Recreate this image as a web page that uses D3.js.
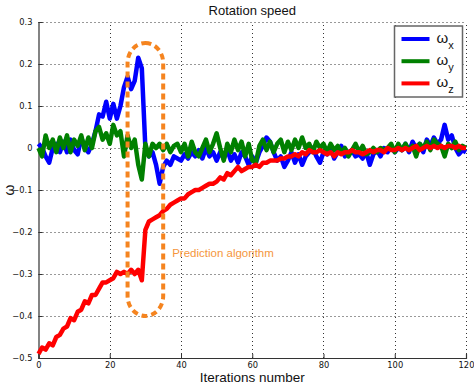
<!DOCTYPE html>
<html>
<head>
    <meta charset="utf-8">
</head>
<body>
    <style>
        body, html {
            margin: 0;
            padding: 0;
            background: #fff;
        }
        svg {
            position: absolute;
            top: 0;
            left: 0;
            font-family: "Liberation Sans", Arial, sans-serif;
        }
    </style>

    <svg width="474" height="385"></svg>

    <script src="https://d3js.org/d3.v7.min.js"></script>

    <script>
        var width = 474;
        var height = 385;
        var margin = { top: 22, right: 8, bottom: 27, left: 38.5 };

        // iterations 0..120
        var iterations = d3.range(0, 121);

        var omegaX = [
            0.01, 0.00, -0.02, -0.035, 0.00, 0.01, -0.01, 0.015, -0.01, 0.02,
            -0.005, -0.015, 0.025, 0.00, -0.01, 0.01, 0.04, 0.08, 0.075, 0.11,
            0.07, 0.105, 0.07, 0.10, 0.145, 0.17, 0.14, 0.16, 0.215, 0.19,
            0.00, -0.02, -0.01, -0.04, -0.085, -0.045, -0.03, -0.04, -0.02, -0.025,
            -0.03, -0.015, -0.025, -0.01, -0.02, -0.005, -0.025, 0.00, -0.02, -0.01,
            -0.03, -0.01, -0.025, -0.005, -0.03, -0.015, -0.035, -0.01, -0.02, -0.04,
            -0.02, -0.035, -0.01, 0.005, 0.025, 0.015, -0.01, -0.03, -0.02, -0.045,
            -0.03, -0.01, -0.035, -0.015, -0.04, -0.02, -0.01, 0.00, -0.02, -0.035,
            -0.01, -0.015, 0.00, -0.025, -0.01, 0.005, -0.02, -0.01, -0.005, -0.02,
            -0.015, -0.025, -0.01, -0.04, -0.015, -0.005, -0.02, 0.00, -0.01, 0.005,
            -0.01, 0.00, -0.005, 0.01, -0.01, 0.015, 0.00, 0.01, -0.01, 0.02,
            0.005, 0.025, 0.01, 0.02, 0.055, 0.02, 0.03, 0.00, -0.015, -0.005,
            -0.01
        ];

        var omegaY = [
            0.00, -0.02, 0.03, 0.00, 0.02, -0.01, 0.025, 0.00, 0.03, -0.01,
            0.02, 0.005, 0.03, -0.005, 0.025, 0.00, 0.04, 0.05, 0.02, 0.035,
            0.01, 0.055, 0.03, 0.04, -0.02, 0.03, 0.00, 0.02, -0.04, -0.075,
            0.01, -0.02, 0.01, 0.00, 0.01, -0.005, 0.01, -0.01, 0.005, 0.01,
            -0.01, 0.01, -0.02, 0.015, -0.01, -0.02, 0.00, 0.02, -0.01, 0.01,
            0.035, 0.00, -0.03, 0.01, -0.01, 0.02, -0.005, 0.015, -0.02, 0.01,
            -0.03, -0.035, 0.005, 0.02, -0.005, 0.015, -0.01, 0.01, 0.02, -0.01,
            0.015, -0.005, 0.02, 0.00, 0.025, 0.00, 0.01, -0.01, 0.015, 0.00,
            0.01, -0.01, 0.01, -0.005, 0.005, -0.01, 0.00, -0.02, -0.005, 0.01,
            -0.01, 0.005, -0.015, -0.01, 0.00, -0.01, 0.00, -0.005, 0.00, 0.01,
            -0.01, 0.01, -0.005, 0.01, -0.005, 0.005, -0.02, 0.01, 0.00, 0.015,
            -0.005, 0.02, 0.01, 0.005, -0.02, 0.01, 0.00, 0.015, -0.005, 0.005,
            0.00
        ];

        var omegaZ = [
            -0.49, -0.475, -0.48, -0.465, -0.47, -0.45, -0.445, -0.43, -0.425, -0.405,
            -0.41, -0.39, -0.385, -0.365, -0.37, -0.35, -0.35, -0.335, -0.32, -0.32,
            -0.315, -0.31, -0.295, -0.30, -0.295, -0.30, -0.29, -0.30, -0.29, -0.315,
            -0.195, -0.175, -0.17, -0.165, -0.16, -0.15, -0.145, -0.135, -0.13, -0.125,
            -0.12, -0.12, -0.11, -0.105, -0.10, -0.10, -0.095, -0.09, -0.085, -0.085,
            -0.08, -0.07, -0.075, -0.06, -0.065, -0.055, -0.045, -0.055, -0.05, -0.045,
            -0.045, -0.04, -0.045, -0.035, -0.035, -0.03, -0.03, -0.03, -0.025, -0.025,
            -0.02, -0.02, -0.015, -0.02, -0.01, -0.015, -0.005, -0.01, -0.01, -0.005,
            -0.01, -0.015, -0.01, -0.02, -0.01, -0.015, -0.01, -0.01, -0.005, -0.01,
            -0.01, -0.015, -0.01, -0.005, -0.01, -0.005, -0.005, -0.01, 0.00, -0.005,
            -0.005, 0.00, -0.005, 0.00, -0.005, 0.00, 0.005, -0.005, 0.00, 0.005,
            0.00, 0.005, 0.00, 0.005, 0.00, 0.005, 0.005, 0.00, 0.005, 0.00,
            0.00
        ];

        var xTicks = [0, 20, 40, 60, 80, 100, 120];
        var yTicks = [-0.5, -0.4, -0.3, -0.2, -0.1, 0, 0.1, 0.2, 0.3];
        var seriesNames = ["x", "y", "z"];
        var seriesColors = ["#0000ff", "#008000", "#ff0000"];

        // highlighted region (prediction algorithm)
        var boxX = [25, 35];
        var boxY = [-0.40, 0.25];

        var svg = d3.select("svg");

        var x = d3.scaleLinear().domain([0, 120]).range([margin.left, width - margin.right]);
        var y = d3.scaleLinear().domain([-0.5, 0.3]).range([height - margin.bottom, margin.top]);

        var x0 = x.range()[0], x1 = x.range()[1];
        var y0 = y.range()[0], y1 = y.range()[1];

        // GRID
        var grid = svg.append("g")
            .attr("stroke", "#333")
            .attr("stroke-width", 1)
            .attr("stroke-dasharray", "1,3");
        grid.selectAll(".gx").data(xTicks.filter(function(d) { return d > 0; }))
            .enter().append("line")
            .attr("x1", function(d) { return Math.round(x(d)) + 0.5; })
            .attr("x2", function(d) { return Math.round(x(d)) + 0.5; })
            .attr("y1", y0).attr("y2", y1);
        grid.selectAll(".gy").data(yTicks.filter(function(d) { return d > -0.5; }))
            .enter().append("line")
            .attr("y1", function(d) { return Math.round(y(d)) + 0.5; })
            .attr("y2", function(d) { return Math.round(y(d)) + 0.5; })
            .attr("x1", x0).attr("x2", x1);

        // AXES
        var xAxis = d3.axisBottom(x).tickValues(xTicks).tickSize(-4).tickPadding(4)
            .tickFormat(d3.format("d"));
        var yAxis = d3.axisLeft(y).tickValues(yTicks).tickSize(-4).tickPadding(6)
            .tickFormat(function(d) { return d === 0 ? "0" : d3.format(".1f")(d).replace("-", "\u2212"); });

        var gx = svg.append("g").attr("transform", "translate(0," + y0 + ")").call(xAxis);
        var gy = svg.append("g").attr("transform", "translate(" + x0 + ",0)").call(yAxis);
        [gx, gy].forEach(function(g) {
            g.select(".domain").attr("stroke", "#333").attr("stroke-width", 1.2);
            g.selectAll(".tick line").attr("stroke", "#333");
            g.selectAll("text").attr("fill", "#111")
                .attr("font-family", "'DejaVu Sans', sans-serif").attr("font-size", 8.3);
        });

        // LINES
        var line = d3.line()
            .x(function(d, i) { return x(iterations[i]); })
            .y(function(d) { return y(d); });

        [omegaX, omegaY, omegaZ].forEach(function(data, i) {
            svg.append("path")
                .datum(data)
                .attr("d", line)
                .attr("fill", "none")
                .attr("stroke", seriesColors[i])
                .attr("stroke-width", 4.5)
                .attr("stroke-linejoin", "round");
        });

        // PREDICTION BOX
        var bw = x(boxX[1]) - x(boxX[0]);
        svg.append("rect")
            .attr("x", x(boxX[0]))
            .attr("y", y(boxY[1]))
            .attr("width", bw)
            .attr("height", y(boxY[0]) - y(boxY[1]))
            .attr("rx", bw / 2)
            .attr("ry", 20)
            .attr("fill", "none")
            .attr("stroke", "#f5841f")
            .attr("stroke-width", 4)
            .attr("stroke-dasharray", "6,4");

        svg.append("text")
            .attr("x", x(boxX[1]) + 9)
            .attr("y", y(-0.25) + 4)
            .attr("fill", "#f5963c")
            .attr("font-size", 11.5)
            .text("Prediction algorithm");

        // LEGEND
        var legend = svg.append("g").attr("transform", "translate(394.5,26)");
        legend.append("rect")
            .attr("width", 68).attr("height", 71)
            .attr("fill", "#fff").attr("stroke", "#666").attr("stroke-width", 1.5);
        seriesNames.forEach(function(name, i) {
            var ly = 13 + i * 22.2;
            legend.append("line")
                .attr("x1", 7).attr("x2", 35)
                .attr("y1", ly).attr("y2", ly)
                .attr("stroke", seriesColors[i]).attr("stroke-width", 4);
            var t = legend.append("text")
                .attr("x", 42).attr("y", ly + 4)
                .attr("font-size", 15).attr("fill", "#111");
            t.append("tspan").text("\u03c9");
            t.append("tspan").attr("dy", 6).attr("font-size", 11).text(name);
        });

        // TITLES
        svg.append("text")
            .attr("x", (x0 + x1) / 2).attr("y", 15)
            .attr("text-anchor", "middle")
            .attr("font-size", 13).attr("fill", "#111")
            .text("Rotation speed");

        svg.append("text")
            .attr("x", (x0 + x1) / 2).attr("y", 382)
            .attr("text-anchor", "middle")
            .attr("font-size", 13.5).attr("fill", "#111")
            .text("Iterations number");

        svg.append("text")
            .attr("transform", "translate(14," + y(-0.1) + ") rotate(-90)")
            .attr("text-anchor", "middle")
            .attr("font-size", 14).attr("fill", "#111")
            .text("\u03c9");
    </script>
</body>
</html>
